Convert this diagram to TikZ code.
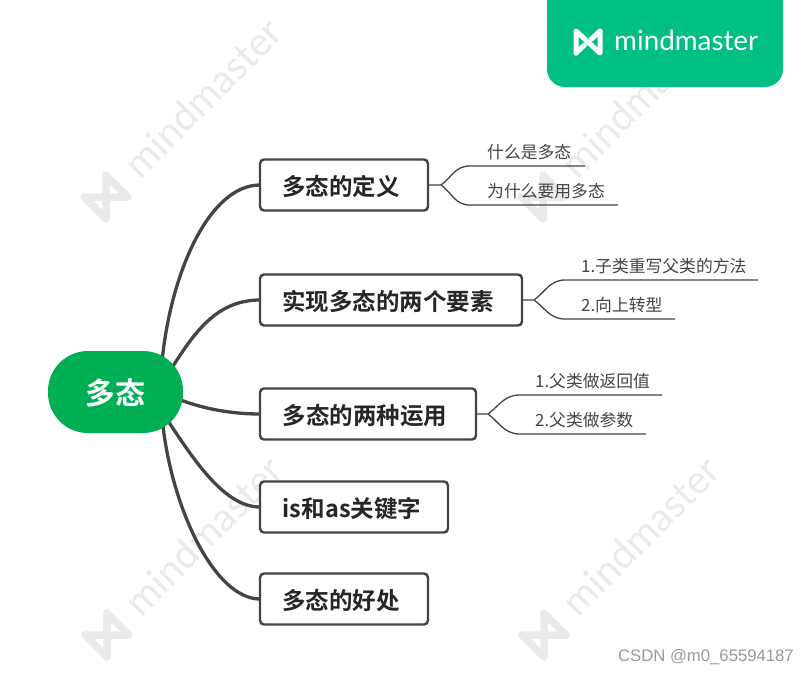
\documentclass[tikz,border=0pt]{standalone}
\usepackage{fontspec}
\setmainfont{Noto Sans CJK SC}[BoldFont={Noto Sans CJK SC Bold}]
\newfontfamily\wmfont{Lato}
\newfontfamily\csdnfont{Liberation Sans}
\usetikzlibrary{backgrounds}
\definecolor{linec}{HTML}{444444}
\definecolor{rootg}{HTML}{00AF55}
\definecolor{brandg}{HTML}{00BF85}
\definecolor{wmg}{HTML}{EAEAEA}
\tikzset{
  rootnode/.style={fill=rootg,text=white,rounded corners=40pt,minimum width=135pt,minimum height=82pt,inner sep=0pt,font=\fontsize{30}{32}\selectfont\bfseries},
  topicbox/.style={draw=linec,line width=2.4pt,rounded corners=4pt,fill=white,inner sep=0pt,outer sep=0pt,minimum height=51pt,anchor=west,text=black!85,font=\fontsize{23.5}{26}\selectfont\bfseries},
  subtext/.style={anchor=base west,inner sep=0pt,text=linec,font=\fontsize{16.8}{18}\selectfont},
  trunk/.style={draw=linec,line width=3.3pt,line cap=round},
  twig/.style={draw=linec,line width=1.3pt},
  wmstroke/.style={draw=wmg,line width=7.5pt,line cap=round,line join=round},
}
\newcommand{\boxtext}[1]{\hspace*{-6pt}\raisebox{-10pt}[0pt][0pt]{#1}}
\newcommand{\wmtie}[2]{%
  \begin{scope}[shift={(#1,#2)},rotate=45]
    \draw[wmstroke] (-15.5,-15.5) -- (-15.5,15.5) -- (15.5,-15.5) -- (15.5,15.5) -- cycle;
  \end{scope}}
\newcommand{\wmark}[2]{%
  \wmtie{#1}{#2}
  \node[anchor=west,rotate=45,text=wmg,inner sep=0pt,font=\fontsize{39.5}{44}\wmfont] at (#1+24,#2-27) {mindmaster};}
\begin{document}
\begin{tikzpicture}[x=1pt,y=-1pt]
\useasboundingbox (0,0) rectangle (808,675);
% nodes
\node[rootnode] (root) at (115.5,392) {\raisebox{-12pt}[0pt][0pt]{多态}};
\node[topicbox,minimum width=168pt] (a) at (260,185) {\boxtext{多态的定义}};
\node[topicbox,minimum width=262pt] (b) at (260,300) {\boxtext{实现多态的两个要素}};
\node[topicbox,minimum width=216pt] (c) at (260,414) {\boxtext{多态的两种运用}};
\node[topicbox,minimum width=188pt] (d) at (260,507) {\hspace*{2pt}\boxtext{is和as关键字}};
\node[topicbox,minimum width=168pt] (e) at (260,599) {\boxtext{多态的好处}};
\node[subtext] (a1) at (487,158) {什么是多态};
\node[subtext] (a2) at (487,197) {为什么要用多态};
\node[subtext] (b1) at (581,272) {1.子类重写父类的方法};
\node[subtext] (b2) at (581,311) {2.向上转型};
\node[subtext] (c1) at (535,387) {1.父类做返回值};
\node[subtext] (c2) at (535,426) {2.父类做参数};
% brand panel
\fill[brandg] (547,-20) [rounded corners=18pt] -- (547,87) -- (783,87) -- (783,-20) [sharp corners] -- cycle;
\draw[white,opacity=.45,line width=5pt] (584,45.5) -- (592,38.5);
\draw[white,line width=5pt,line cap=round] (600,31) -- (592,38.5);
\draw[white,line width=5pt,line cap=round] (576,53) -- (584,45.5);
\draw[white,line width=5pt,line cap=round,line join=round] (576,53) -- (576,31) -- (600,53) -- (600,31);
\node[anchor=west,inner sep=0pt,text=white,font=\fontsize{27.8}{32}\wmfont] (brand) at (614,40) {mindmaster};
\node[anchor=east,inner sep=0pt,text=black!40,font=\fontsize{16.7}{18}\csdnfont] (csdn) at (794,657) {CSDN @m0\_65594187};
% twig ends
\coordinate (a1s) at (470,166); \coordinate (a1e) at (585,166);
\coordinate (a2s) at (470,205); \coordinate (a2e) at (618,205);
\coordinate (af) at (441,185);
\coordinate (b1s) at (565,280); \coordinate (b1e) at (758,280);
\coordinate (b2s) at (565,319); \coordinate (b2e) at (675,319);
\coordinate (bf) at (534,300);
\coordinate (c1s) at (520,395); \coordinate (c1e) at (662,395);
\coordinate (c2s) at (520,434); \coordinate (c2e) at (646,434);
\coordinate (cf) at (488,414);
\begin{scope}[on background layer]
  \fill[white] (0,0) rectangle (808,675);
  \wmark{106}{197}
  \wmark{543}{197}
  \wmark{107}{635}
  \wmark{544}{635}
  \draw[trunk] (root.center) ++(47,-35) .. controls (172,270) and (210,185) .. (a.west);
  \draw[trunk] (root.center) ++(55,-22) .. controls (193,335) and (215,300) .. (b.west);
  \draw[trunk] (root.center) ++(60,6) .. controls (205,410) and (235,414) .. (c.west);
  \draw[trunk] (root.center) ++(50,25) .. controls (195,462) and (225,507) .. (d.west);
  \draw[trunk] (root.center) ++(47,30) .. controls (172,510) and (215,599) .. (e.west);
  \draw[twig] (a.east) -- (af) .. controls (452,193) and (455,205) .. (a2s) -- (a2e);
  \draw[twig] (af) .. controls (452,177) and (455,166) .. (a1s) -- (a1e);
  \draw[twig] (b.east) -- (bf) .. controls (545,308) and (550,319) .. (b2s) -- (b2e);
  \draw[twig] (bf) .. controls (545,292) and (550,280) .. (b1s) -- (b1e);
  \draw[twig] (c.east) -- (cf) .. controls (499,422) and (504,434) .. (c2s) -- (c2e);
  \draw[twig] (cf) .. controls (499,406) and (504,395) .. (c1s) -- (c1e);
\end{scope}
\end{tikzpicture}
\end{document}
